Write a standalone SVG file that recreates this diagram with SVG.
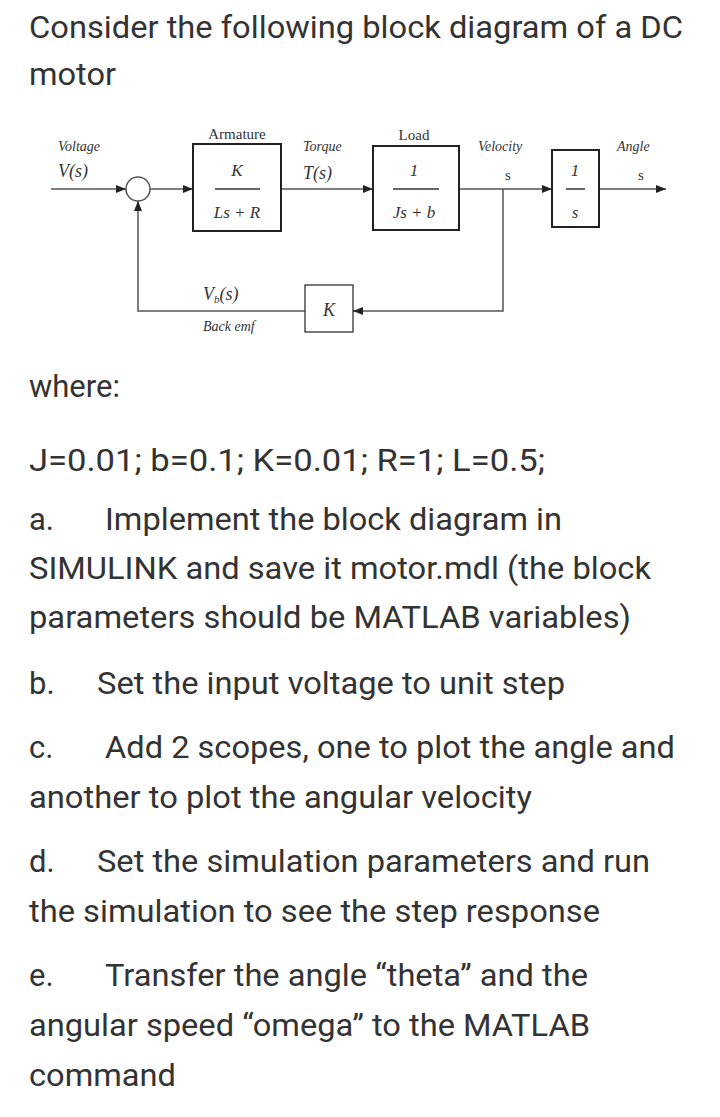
<svg xmlns="http://www.w3.org/2000/svg" width="720" height="1117" viewBox="0 0 720 1117">
<defs>
<marker id="ah" markerWidth="10" markerHeight="8" refX="10" refY="4" orient="auto" markerUnits="userSpaceOnUse"><path d="M0,0 L10,4 L0,8 Z" fill="#222"/></marker>
<style>
.t{font-family:Roboto,"Liberation Sans",sans-serif;font-size:31px;fill:#333}
.d{font-family:"Liberation Serif",serif;fill:#333}
.i{font-style:italic}
.bx{fill:#fff;stroke:#222;stroke-width:2}
.ln{fill:none;stroke:#555;stroke-width:1.5}
</style>
</defs>
<rect width="720" height="1117" fill="#fff"/>
<text class="t" x="29" y="38" textLength="654" lengthAdjust="spacingAndGlyphs">Consider the following block diagram of a DC</text>
<text class="t" x="29" y="85" textLength="87" lengthAdjust="spacingAndGlyphs">motor</text>
<g id="connectors">
<line class="ln" x1="51" y1="189" x2="126" y2="189" marker-end="url(#ah)"/>
<line class="ln" x1="150" y1="189" x2="193" y2="189" marker-end="url(#ah)"/>
<line class="ln" x1="281" y1="189" x2="373" y2="189" marker-end="url(#ah)"/>
<line class="ln" x1="459" y1="189" x2="552" y2="189" marker-end="url(#ah)"/>
<line class="ln" x1="599" y1="189" x2="666" y2="189" marker-end="url(#ah)"/>
<polyline class="ln" points="503,189 503,311 353,311" marker-end="url(#ah)"/>
<polyline class="ln" points="305,311 138,311 138,201" marker-end="url(#ah)"/>
</g>
<g id="sum"><circle cx="138" cy="189" r="12" fill="#fff" stroke="#555" stroke-width="1.5"/></g>
<g id="armature">
<rect class="bx" x="193" y="144" width="88" height="87"/>
<text class="d" x="237" y="139" font-size="15" text-anchor="middle">Armature</text>
<text class="d i" x="237" y="176" font-size="17" text-anchor="middle">K</text>
<line x1="215" y1="189" x2="260" y2="189" stroke="#333" stroke-width="1.5"/>
<text class="d i" x="237" y="218" font-size="17" text-anchor="middle">Ls + R</text>
</g>
<g id="load">
<rect class="bx" x="373" y="146" width="86" height="84"/>
<text class="d" x="414" y="140" font-size="15" text-anchor="middle">Load</text>
<text class="d i" x="414" y="176" font-size="17" text-anchor="middle">1</text>
<line x1="393" y1="189" x2="439" y2="189" stroke="#333" stroke-width="1.5"/>
<text class="d i" x="414" y="218" font-size="17" text-anchor="middle">Js + b</text>
</g>
<g id="integrator">
<rect class="bx" x="552" y="150" width="47" height="77"/>
<text class="d i" x="575" y="176" font-size="17" text-anchor="middle">1</text>
<line x1="566" y1="189" x2="585" y2="189" stroke="#333" stroke-width="1.5"/>
<text class="d i" x="575" y="218" font-size="16" text-anchor="middle">s</text>
</g>
<g id="gain">
<rect x="305" y="285" width="48" height="47" fill="#fff" stroke="#222" stroke-width="1.2"/>
<text class="d i" x="329" y="316" font-size="18" text-anchor="middle">K</text>
</g>
<g id="labels">
<text class="d i" x="58" y="151" font-size="14">Voltage</text>
<text class="d i" x="58" y="177" font-size="18">V(s)</text>
<text class="d i" x="303" y="151" font-size="14">Torque</text>
<text class="d i" x="303" y="179" font-size="18">T(s)</text>
<text class="d i" x="478" y="151" font-size="14">Velocity</text>
<text class="d" x="508" y="180" font-size="15" text-anchor="middle">s</text>
<text class="d i" x="617" y="151" font-size="14">Angle</text>
<text class="d" x="641" y="180" font-size="15" text-anchor="middle">s</text>
<text class="d i" x="203" y="300" font-size="18">V<tspan font-size="11" dy="3">b</tspan><tspan dy="-3">(s)</tspan></text>
<text class="d i" x="203" y="331" font-size="14">Back emf</text>
</g>
<text class="t" x="29" y="397">where:</text>
<text class="t" x="29" y="471" textLength="516" lengthAdjust="spacingAndGlyphs">J=0.01; b=0.1; K=0.01; R=1; L=0.5;</text>
<text class="t" x="29" y="530">a.</text>
<text class="t" x="105" y="530" textLength="457" lengthAdjust="spacingAndGlyphs">Implement the block diagram in</text>
<text class="t" x="29" y="579" textLength="622" lengthAdjust="spacingAndGlyphs">SIMULINK and save it motor.mdl (the block</text>
<text class="t" x="29" y="628" textLength="602" lengthAdjust="spacingAndGlyphs">parameters should be MATLAB variables)</text>
<text class="t" x="29" y="694">b.</text>
<text class="t" x="97" y="694" textLength="468" lengthAdjust="spacingAndGlyphs">Set the input voltage to unit step</text>
<text class="t" x="29" y="758">c.</text>
<text class="t" x="105" y="758" textLength="570" lengthAdjust="spacingAndGlyphs">Add 2 scopes, one to plot the angle and</text>
<text class="t" x="29" y="808" textLength="503" lengthAdjust="spacingAndGlyphs">another to plot the angular velocity</text>
<text class="t" x="29" y="872">d.</text>
<text class="t" x="97" y="872" textLength="553" lengthAdjust="spacingAndGlyphs">Set the simulation parameters and run</text>
<text class="t" x="29" y="922" textLength="571" lengthAdjust="spacingAndGlyphs">the simulation to see the step response</text>
<text class="t" x="29" y="986">e.</text>
<text class="t" x="105" y="986" textLength="483" lengthAdjust="spacingAndGlyphs">Transfer the angle “theta” and the</text>
<text class="t" x="29" y="1036" textLength="561" lengthAdjust="spacingAndGlyphs">angular speed “omega” to the MATLAB</text>
<text class="t" x="29" y="1086" textLength="147" lengthAdjust="spacingAndGlyphs">command</text>
</svg>
